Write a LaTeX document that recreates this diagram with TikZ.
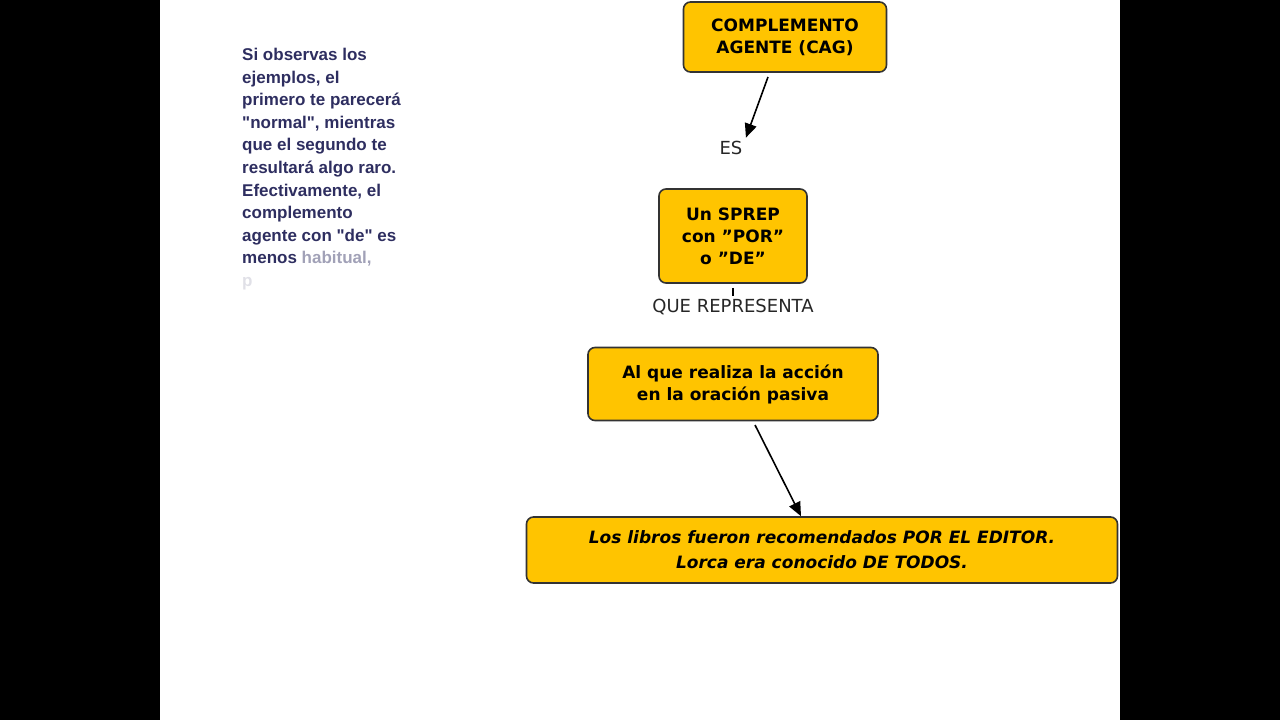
\documentclass[tikz,border=0pt]{standalone}
\usepackage{fontspec}
\setmainfont{DejaVu Sans}
\newfontfamily\lib{Liberation Sans}
\usetikzlibrary{arrows.meta}
\definecolor{boxy}{HTML}{FFC400}
\definecolor{navy}{HTML}{2E2E60}
\tikzset{
  cbox/.style={draw=black!80, line width=1.6pt, fill=boxy, rounded corners=7pt, font=\bfseries\fontsize{17}{22}\selectfont, align=center, inner sep=0pt},
  lbl/.style={font=\fontsize{18}{22}\selectfont, text=black!85},
  arr/.style={line width=1.6pt, -{Triangle[length=14pt,width=12pt]}}
}
\begin{document}
\begin{tikzpicture}[x=1pt,y=-1pt]
\useasboundingbox (0,0) rectangle (1280,720);
\fill[black] (0,0) rectangle (160,720);
\fill[black] (1120,0) rectangle (1280,720);
\node[cbox, minimum width=203pt, minimum height=70pt] (cag) at (785,37) {COMPLEMENTO\\AGENTE (CAG)};
\node[lbl] (es) at (731,148) {ES};
\node[cbox, minimum width=148pt, minimum height=94pt] (sp) at (733,236) {Un SPREP\\con "POR"\\o "DE"};
\node[lbl] (qr) at (733,307) {QUE REPRESENTA};
\node[cbox, minimum width=290pt, minimum height=73pt] (ac) at (733,384) {Al que realiza la acción\\en la oración pasiva};
\node[cbox, minimum width=591pt, minimum height=66pt, font=\bfseries\itshape\fontsize{17}{25}\selectfont] (ej) at (822,550) {Los libros fueron recomendados POR EL EDITOR.\\Lorca era conocido DE TODOS.};
\coordinate (a1) at (768,77);
\coordinate (a2) at (755,425);
\draw[arr] (a1) -- (es.north east);
\draw[line width=1.2pt] (sp.south) ++(0,4) -- (qr.north);
\draw[arr] (a2) -- (ej.north -| 801,0);
\node[anchor=north west, align=left, text=navy, font=\lib\bfseries\fontsize{17}{22.6}\selectfont, inner sep=0pt] (txt) at (242,48) {Si observas los\\ejemplos, el\\primero te parecerá\\"normal", mientras\\que el segundo te\\resultará algo raro.\\Efectivamente, el\\complemento\\agente con "de" es\\menos \textcolor{navy!45}{habitual,}\\\textcolor{navy!15}{p}};
\end{tikzpicture}
\end{document}
